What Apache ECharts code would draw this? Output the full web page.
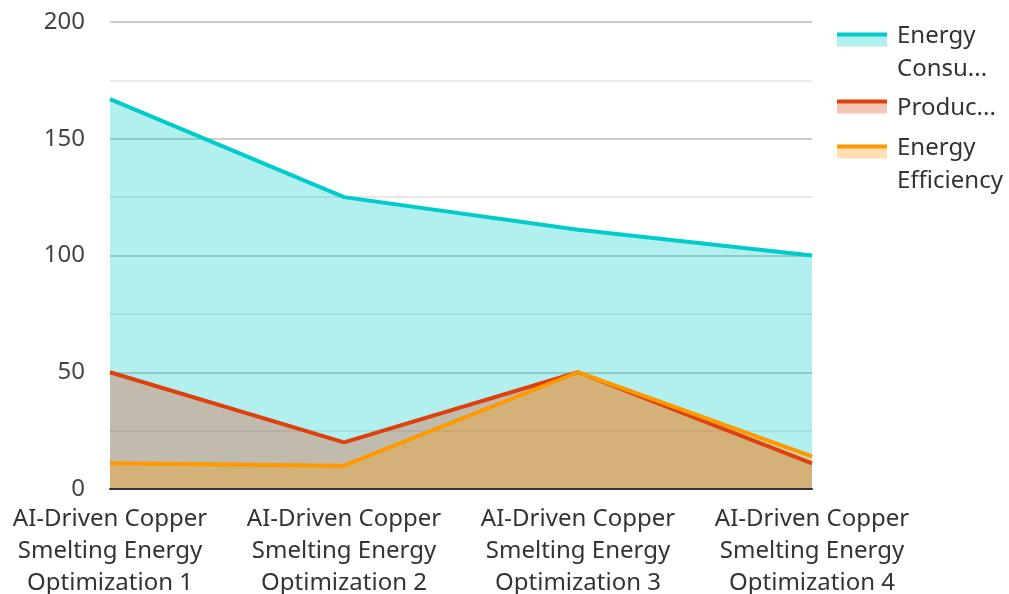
<!DOCTYPE html>
<html><head><meta charset="utf-8">
<script src="https://cdn.jsdelivr.net/npm/echarts@6/dist/echarts.min.js"></script>
<style>html,body{margin:0;padding:0;background:#fff}#c{width:1009px;height:594px}</style>
</head><body><div id="c"></div>
<script>
const categories = ['AI-Driven Copper Smelting Energy Optimization 1','AI-Driven Copper Smelting Energy Optimization 2','AI-Driven Copper Smelting Energy Optimization 3','AI-Driven Copper Smelting Energy Optimization 4'];
const categoryLabels = ['AI-Driven Copper\nSmelting Energy\nOptimization 1','AI-Driven Copper\nSmelting Energy\nOptimization 2','AI-Driven Copper\nSmelting Energy\nOptimization 3','AI-Driven Copper\nSmelting Energy\nOptimization 4'];
const seriesNames = ['Energy Consumption','Production','Energy Efficiency'];
const legendLabels = ['{t1| }\nEnergy\nConsu...\n{b1| }','Produc...','{t3| }\nEnergy\nEfficiency\n{b3| }'];
const energyConsumption = [167, 125, 111, 100];
const production = [50, 20, 50, 11];
const energyEfficiency = [11, 10, 50, 14];
const colors = ['#00CCCC','#E0400F','#FF9900'];
const lightColors = ['#B2F0EF','#F5C6B8','#FFE0B3'];

const chart = echarts.init(document.getElementById('c'));
const font = 'Noto Sans';
function mk(name, data, color){
  return {name, type:'line', data, showSymbol:false, symbol:'none',
    lineStyle:{width:4,color}, itemStyle:{color},
    areaStyle:{color, opacity:0.3}};
}
chart.setOption({
  animation:false,
  color:colors,
  textStyle:{fontFamily:font},
  grid:{left:110,right:197,top:22,bottom:105,outerBoundsMode:'none',containLabel:false},
  legend:{orient:'vertical', left:832, top:-29, padding:0, itemWidth:50, itemHeight:14, itemGap:-20,
    itemStyle:{opacity:0},
    textStyle:{fontSize:24, color:'#333', lineHeight:33, fontFamily:font, padding:[0,0,0,5],
      rich:{t1:{fontSize:1,lineHeight:49},b1:{fontSize:1,lineHeight:26},t3:{fontSize:1,lineHeight:27},b3:{fontSize:1,lineHeight:4}}},
    formatter: n => legendLabels[seriesNames.indexOf(n)],
    data:seriesNames.map((n,i)=>({name:n,
      lineStyle:{color:lightColors[i], width:10, shadowColor:colors[i], shadowOffsetY:-4, shadowBlur:0, cap:'butt'}}))},
  xAxis:{type:'category', data:categories, boundaryGap:false, z:10,
    axisLine:{lineStyle:{color:'#333',width:2}}, axisTick:{show:false},
    axisLabel:{fontSize:24, color:'#333', lineHeight:32, margin:14, interval:0, fontFamily:font,
      formatter:(v,i)=>categoryLabels[i]}},
  yAxis:{type:'value', min:0, max:200, interval:50,
    axisLine:{show:false}, axisTick:{show:false},
    axisLabel:{fontSize:24, color:'#444', margin:25, fontFamily:font},
    splitLine:{lineStyle:{color:'#ccc',width:2}},
    minorTick:{show:false, splitNumber:2},
    minorSplitLine:{show:true, lineStyle:{color:'#e8e8e8',width:2}}},
  series:[mk(seriesNames[0],energyConsumption,colors[0]), mk(seriesNames[1],production,colors[1]), mk(seriesNames[2],energyEfficiency,colors[2])]
});
</script></body></html>
